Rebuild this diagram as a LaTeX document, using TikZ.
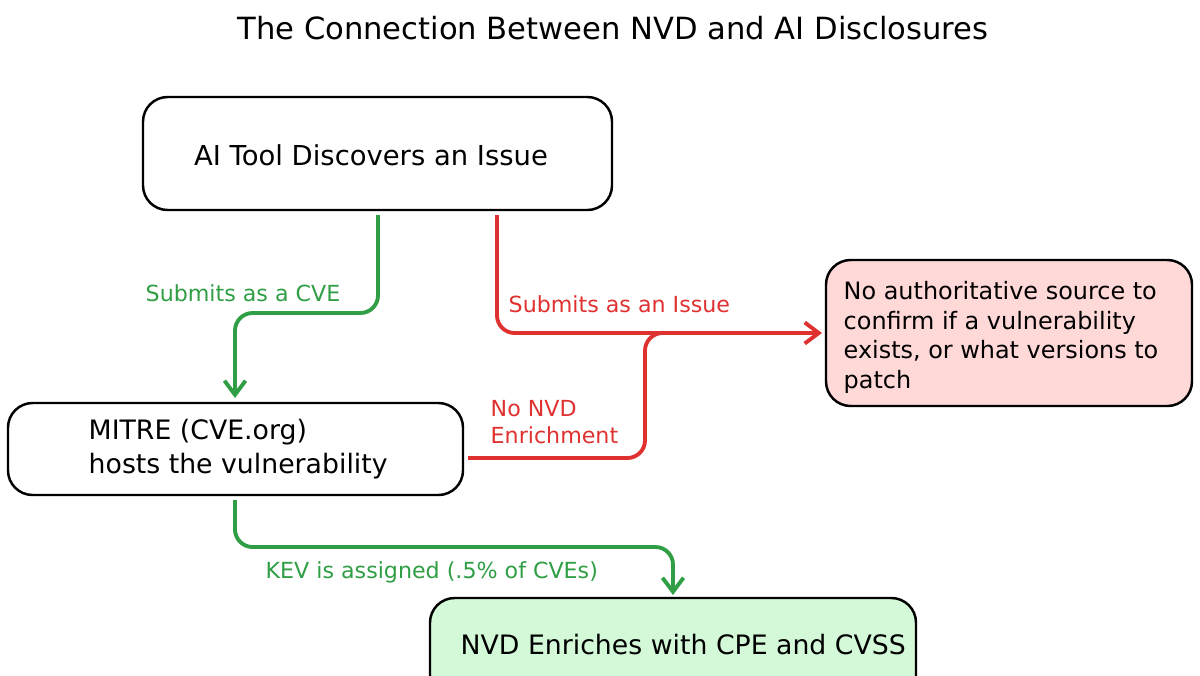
\documentclass[tikz,border=0pt]{standalone}
\usepackage{fontspec}
\setmainfont{DejaVu Sans}
\usetikzlibrary{arrows.meta}
\definecolor{lgreen}{HTML}{2F9E44}
\definecolor{lred}{HTML}{E03131}
\definecolor{pinkfill}{HTML}{FFD8D8}
\definecolor{mintfill}{HTML}{D3F9D8}
\begin{document}
\begin{tikzpicture}[x=0.01cm,y=-0.01cm,
  box/.style={draw, rounded corners=7pt, line width=0.7pt},
  flow/.style={line width=1.1pt, rounded corners=5pt},
  tip/.style={-{Straight Barb[length=4pt,width=6pt]}},
  lbl/.style={font=\fontsize{6.3}{7.8}\selectfont, inner sep=0pt}]
\useasboundingbox (0,0) rectangle (1200,675);
% Title
\node[inner sep=0pt, font=\fontsize{8.7}{10}\selectfont] (title) at (613,28) {The Connection Between NVD and AI Disclosures};

% Boxes
\draw[box] (143,97) rectangle (612,210);
\node[inner sep=0pt, font=\fontsize{7.8}{9}\selectfont] (tool) at (371,155) {AI Tool Discovers an Issue};
\draw[box] (8,403) rectangle (463,495);
\node[inner sep=0pt, anchor=west, align=left, font=\fontsize{7.6}{9.5}\selectfont] (mitre) at (88,449) {MITRE (CVE.org)\\hosts the vulnerability};
\draw[box, fill=pinkfill] (826,260) rectangle (1192,406);
\node[inner sep=0pt, anchor=north west, align=left, font=\fontsize{6.8}{8.4}\selectfont] (noauth) at (843,281) {No authoritative source to\\confirm if a vulnerability\\exists, or what versions to\\patch};
\draw[box, fill=mintfill] (430,598) rectangle (916,700);
\node[inner sep=0pt, anchor=west, font=\fontsize{7.6}{9}\selectfont] (nvd) at (460,645) {NVD Enriches with CPE and CVSS};

% Connectors
\coordinate (gs) at (378,215);
\coordinate (gm) at (235,398);
\coordinate (rs) at (497,215);
\coordinate (re) at (822,333);
\coordinate (ms) at (468,458);
\coordinate (kv) at (235,500);
\coordinate (ke) at (673,595);
\draw[flow, tip, lgreen] (gs) |- (306,313) -| (gm);
\draw[flow, tip, lred] (rs) |- (re);
\draw[flow, lred] (ms) -| (645,333) -- (680,333);
\draw[flow, tip, lgreen] (kv) |- (454,547) -| (ke);

% Labels
\node[lbl, text=lgreen, anchor=west] (cve) at (145,293) {Submits as a CVE};
\node[lbl, text=lred, anchor=west] (issue) at (508,304) {Submits as an Issue};
\node[lbl, text=lred, anchor=west, align=left] (enr) at (490,422) {No NVD\\Enrichment};
\node[lbl, text=lgreen, anchor=west] (kev) at (265,572) {KEV is assigned (.5\% of CVEs)};
\end{tikzpicture}
\end{document}
